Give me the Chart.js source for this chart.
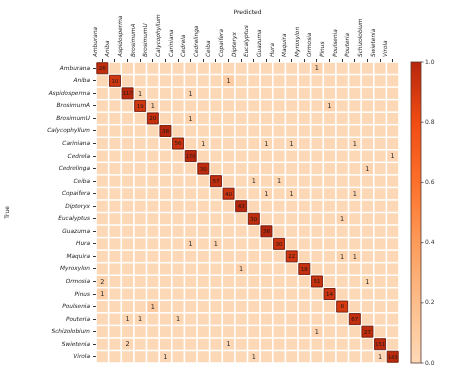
<!DOCTYPE html>
<html><head><meta charset="utf-8">
<script src="https://cdn.jsdelivr.net/npm/chart.js@4/dist/chart.umd.min.js"></script>
<style>html,body{margin:0;padding:0;background:#fff}#wrap{width:474px;height:381px;position:relative}</style>
</head><body><div id="wrap"><canvas id="c"></canvas></div>
<script>
const classes = ["Amburana","Aniba","Aspidosperma","BrosimumA","BrosimumU","Calycophyllum","Cariniana","Cedrela","Cedrelinga","Ceiba","Copaifera","Dipteryx","Eucalyptus","Guazuma","Hura","Maquira","Myroxylon","Ormosia","Pinus","Poulsenia","Pouteria","Schizolobium","Swietenia","Virola"];
const diagonal = [26,10,117,19,20,38,56,170,30,57,40,43,30,38,30,22,18,51,14,8,67,27,151,143];
const offRows   = [0,1,2,2,3,3,4,6,6,6,6,7,8,9,9,10,10,10,12,14,14,15,15,16,17,17,18,19,20,20,20,21,22,22,23,23,23];
const offCols   = [17,10,3,7,4,18,7,8,13,15,20,23,21,12,14,13,15,20,19,7,9,19,20,11,0,21,0,4,2,3,6,17,2,10,5,12,22];
const offCounts = [1,1,1,1,1,1,1,1,1,1,1,1,1,1,1,1,1,1,1,1,1,1,1,1,2,1,1,1,1,1,1,1,2,1,1,1,1];
const colorbarTicks = [0.0,0.2,0.4,0.6,0.8,1.0];
const xTitle = "Predicted";
const yTitle = "True";

// colormap (peach -> orange -> dark red)
const cmapStops = [
  [0.0,[253,216,182]],
  [0.2,[253,190,140]],
  [0.4,[253,155,90]],
  [0.6,[252,112,42]],
  [0.8,[240,76,20]],
  [1.0,[182,38,12]]
];
function cmap(v){
  v=Math.max(0,Math.min(1,v));
  for(let i=1;i<cmapStops.length;i++){
    const [p1,c1]=cmapStops[i-1],[p2,c2]=cmapStops[i];
    if(v<=p2){const t=(v-p1)/(p2-p1);
      return `rgb(${c1.map((c,k)=>Math.round(c+(c2[k]-c)*t)).join(',')})`;}
  }
  return 'rgb(182,38,12)';
}

// build count matrix
const N = classes.length;
const counts = classes.map((_,r)=>classes.map((_,c)=> r===c ? diagonal[r] : 0));
offRows.forEach((r,i)=>{counts[r][offCols[i]] += offCounts[i];});
const rowSums = counts.map(row=>row.reduce((a,b)=>a+b,0));
const points = [];
for(let r=0;r<N;r++) for(let c=0;c<N;c++){
  points.push({x:classes[c], y:classes[r], n:counts[r][c], v:counts[r][c]/rowSums[r], diag:r===c});
}

const FONT = "'DejaVu Sans', sans-serif";
const PAD = {left:4, top:6, right:75, bottom:18};
const GRID_LEFT = 96, GRID_TOP = 62;

const cellText = {
  id:'cellText',
  afterDatasetsDraw(chart){
    const ctx=chart.ctx; const meta=chart.getDatasetMeta(0);
    ctx.save(); ctx.textAlign='center'; ctx.textBaseline='middle';
    meta.data.forEach((el,i)=>{
      const p=points[i]; if(!p.n) return;
      ctx.fillStyle = '#1a1a1a';
      const s = String(p.n);
      ctx.font = (s.length>=3?'5px ':(p.diag?'5.5px ':'6.5px '))+FONT;
      ctx.fillText(s, el.x, el.y+0.5);
    });
    ctx.restore();
  }
};

const colorbar = {
  id:'colorbar',
  afterDraw(chart){
    const ctx=chart.ctx, a=chart.chartArea;
    const x=a.right+12, w=10, top=a.top, bot=a.bottom;
    const g=ctx.createLinearGradient(0,bot,0,top);
    for(let i=0;i<=20;i++){g.addColorStop(i/20, cmap(i/20));}
    ctx.save();
    ctx.fillStyle=g; ctx.fillRect(x,top,w,bot-top);
    ctx.strokeStyle='#5a3a30'; ctx.lineWidth=0.8; ctx.strokeRect(x,top,w,bot-top);
    ctx.font='6px '+FONT; ctx.fillStyle='#333'; ctx.textAlign='left'; ctx.textBaseline='middle';
    colorbarTicks.forEach(t=>{
      const y=bot-(bot-top)*t;
      ctx.strokeStyle='#444';
      ctx.beginPath(); ctx.moveTo(x+w,y); ctx.lineTo(x+w+2.5,y); ctx.stroke();
      ctx.fillText(t.toFixed(1), x+w+4, y);
    });
    ctx.restore();
  }
};

new Chart(document.getElementById('c'),{
  type:'scatter',
  data:{datasets:[{
    data:points,
    pointStyle:'rect',
    radius:(ctx)=>{const s=ctx.chart.scales.x; const pitch=s.width/N; return (pitch-1.6)/Math.SQRT2;},
    hoverRadius:(ctx)=>{const s=ctx.chart.scales.x; const pitch=s.width/N; return (pitch-1.6)/Math.SQRT2;},
    backgroundColor:(ctx)=>{const p=ctx.raw; return p?cmap(p.v):'#fdd8b6';},
    borderColor:(ctx)=>{const p=ctx.raw; return p&&p.diag?'#6e1a08':'rgba(0,0,0,0)';},
    borderWidth:(ctx)=>{const p=ctx.raw; return p&&p.diag?0.9:0;},
    clip:false
  }]},
  options:{
    responsive:true, maintainAspectRatio:false, animation:false, events:[],
    layout:{padding:PAD},
    plugins:{legend:{display:false}, tooltip:{enabled:false}},
    scales:{
      x:{type:'category', labels:classes, position:'top', offset:true,
        afterFit:(s)=>{s.height=GRID_TOP-PAD.top;},
        grid:{drawOnChartArea:false, drawTicks:true, tickLength:3, offset:false, color:'#333'},
        border:{display:false},
        ticks:{autoSkip:false, minRotation:90, maxRotation:90, padding:2, color:'#222', font:{family:FONT,size:5.8,style:'italic'}},
        title:{display:true, text:xTitle, color:'#222', font:{family:FONT,size:6}, padding:{top:3,bottom:2}}
      },
      y:{type:'category', labels:classes, offset:true,
        afterFit:(s)=>{s.width=GRID_LEFT-PAD.left;},
        grid:{drawOnChartArea:false, drawTicks:true, tickLength:3, offset:false, color:'#333'},
        border:{display:false},
        ticks:{autoSkip:false, padding:3, color:'#222', font:{family:FONT,size:5.8,style:'italic'}},
        title:{display:true, text:yTitle, color:'#222', font:{family:FONT,size:6}, padding:{top:0,bottom:0}}
      }
    }
  },
  plugins:[cellText, colorbar]
});
</script></body></html>
